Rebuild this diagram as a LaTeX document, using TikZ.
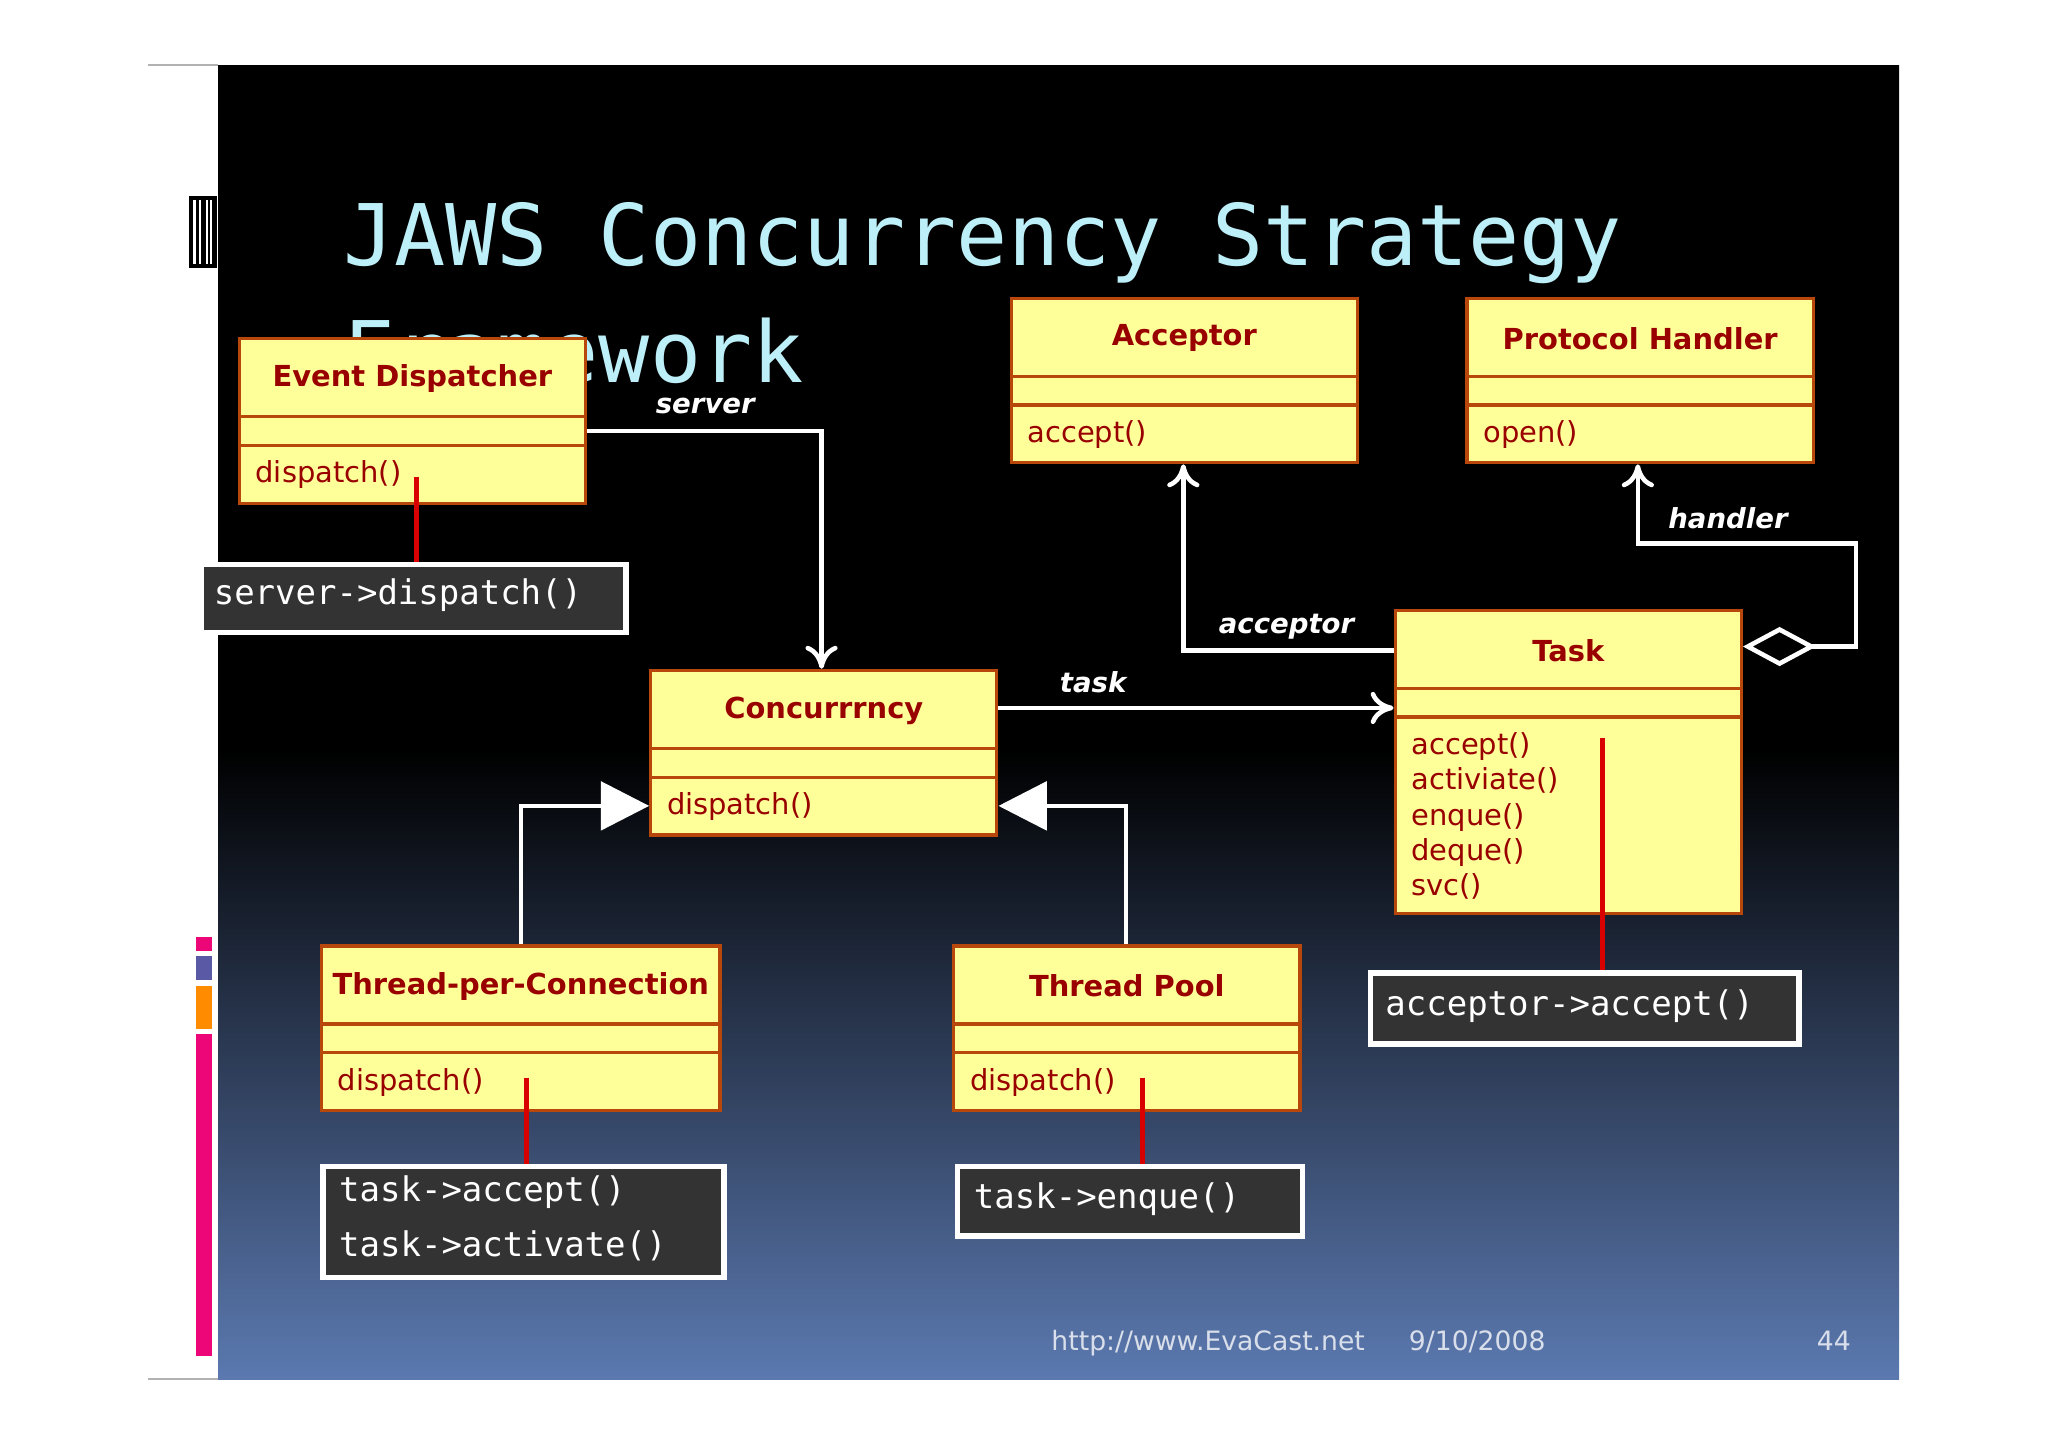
\documentclass[tikz,border=0pt]{standalone}
\usepackage{fontspec}
\setmainfont{DejaVu Sans}
\setmonofont{DejaVu Sans Mono}
\usetikzlibrary{arrows.meta,calc}
\definecolor{bg1}{HTML}{5B79B0}
\definecolor{uy}{HTML}{FFFF99}
\definecolor{ub}{HTML}{B8470B}
\definecolor{ut}{HTML}{990000}
\definecolor{tc}{HTML}{BDEFF8}
\definecolor{cb}{HTML}{333333}
\definecolor{ft}{HTML}{D8DEEA}
\pgfdeclareverticalshading{slide}{100bp}{color(0bp)=(bg1);color(25bp)=(bg1);color(49bp)=(black);color(100bp)=(black)}
\tikzset{
 box/.style={draw=ub,fill=uy,line width=0.7pt,anchor=north west,inner sep=0pt},
 ttl/.style={text=ut,font=\fontsize{6.3}{6.5}\selectfont\bfseries},
 mth/.style={text=ut,font=\fontsize{6.3}{7.7}\selectfont,anchor=north west,align=left,inner sep=0pt},
 code/.style={draw=white,fill=cb,line width=1.2pt,anchor=north west,inner sep=0pt},
 ct/.style={text=white,font=\ttfamily\fontsize{7.4}{9}\selectfont,anchor=west,inner sep=0pt},
 wl/.style={draw=white,line width=1pt},
 lab/.style={text=white,font=\fontsize{6}{6.5}\selectfont\bfseries\itshape},
 rl/.style={draw=red!85!black,line width=1.1pt},
 oarr/.style={-{To[length=5pt,width=7pt,line width=1pt]}},
 tri/.style={-{Triangle[length=0.37cm,width=0.37cm,fill=white]}},
}
\newcommand\umlbox[7]{%
 \node[box,minimum width={#4*0.01cm},minimum height={#5*0.01cm}] (#1) at (#2,#3) {};
 \draw[ub,line width=0.7pt] ($(#1.north west)+(0,61)$) -- ($(#1.north east)+(0,61)$);
 \draw[ub,line width=0.7pt] ($(#1.north west)+(0,83)$) -- ($(#1.north east)+(0,83)$);
 \node[ttl] (#1t) at ($(#1.north)+(0,32)$) {#6};
 \node[mth] (#1m) at ($(#1.north west)+(13,94)$) {#7};
}
\begin{document}
\begin{tikzpicture}[x=0.01cm,y=-0.01cm]
\useasboundingbox[fill=white] (0,0) rectangle (1568,1108);
\shade[shading=slide] (167,50) rectangle (1454,1056);
\draw[gray!60,line width=0.5pt] (113,50) -- (167,50) (113,1056) -- (167,1056);
% barcode
\foreach \x/\w in {145/3,150/2,154/4,159/2,162/4}{\fill[black] (\x,150) rectangle (\x+\w,205);}
\fill[black] (145,150) rectangle (166,153);
\fill[black] (145,202) rectangle (166,205);
\fill[magenta!80!red] (150,717) rectangle (162,728);
\fill[gray!70!blue] (150,732) rectangle (162,750);
\fill[orange!90!yellow] (150,755) rectangle (162,788);
\fill[magenta!80!red] (150,792) rectangle (162,1038);
% title
\node[text=tc,font=\ttfamily\fontsize{18.5}{25}\selectfont,anchor=base west,inner sep=0pt] (title1) at (262,203) {JAWS Concurrency Strategy};
\node[text=tc,font=\ttfamily\fontsize{18.5}{25}\selectfont,anchor=base west,inner sep=0pt] (title2) at (262,293) {Framework};
% boxes
\umlbox{ed}{182}{258}{265}{126}{Event Dispatcher}{dispatch()}
\umlbox{acc}{773}{227}{265}{126}{Acceptor}{accept()}
\umlbox{ph}{1122}{227}{265}{126}{Protocol Handler}{open()}
\umlbox{con}{497}{512}{265}{126}{Concurrrncy}{dispatch()}
\umlbox{task}{1067}{466}{265}{232}{Task}{accept()\\activiate()\\enque()\\deque()\\svc()}
\umlbox{tpc}{245}{723}{305}{126}{Thread-per-Connection}{dispatch()}
\umlbox{tp}{729}{723}{265}{126}{Thread Pool}{dispatch()}
% code boxes
\node[code,minimum width=3.25cm,minimum height=0.52cm] (c1) at (152,430) {};
\node[ct] at (163,456) {server->dispatch()};
\node[code,minimum width=3.28cm,minimum height=0.54cm] (c2) at (1047,743) {};
\node[ct] at (1060,770) {acceptor->accept()};
\node[code,minimum width=3.07cm,minimum height=0.85cm] (c3) at (245,891) {};
\node[ct] at (259,913) {task->accept()};
\node[ct] at (259,954) {task->activate()};
\node[code,minimum width=2.64cm,minimum height=0.53cm] (c4) at (731,891) {};
\node[ct] at (745,918) {task->enque()};
% red lines
\draw[rl] (319,365) -- (c1.north -| 319,0);
\draw[rl] (1227,565) -- (c2.north -| 1227,0);
\draw[rl] (403,825) -- (c3.north -| 403,0);
\draw[rl] (875,825) -- (c4.north -| 875,0);
% connectors
\draw[wl,oarr] (ed.east |- 0,330) -| (con.north -| 629,0);
\node[lab] at (540,311) {server};
\draw[wl,oarr] (con.east |- 0,542) -- (task.west |- 0,542);
\node[lab] at (837,522) {task};
\draw[wl,oarr] (task.west |- 0,498) -| (acc.south -| 906,0);
\node[lab] at (985,480) {acceptor};
\coordinate (hc) at (1421,416);
\draw[wl,{Diamond[open,length=0.56cm,width=0.3cm,line width=1pt]}-{To[length=5pt,width=7pt,line width=1pt]}] (task.east |- 0,495) -| (hc) -| (ph.south -| 1254,0);
\node[lab] at (1323,397) {handler};
\draw[wl,tri] (tpc.north -| 399,0) |- (con.west |- 0,617);
\draw[wl,tri] (tp.north -| 862,0) |- (con.east |- 0,617);
% footer
\node[text=ft,font=\fontsize{5.8}{7}\selectfont,anchor=base] (f1) at (925,1034) {http://www.EvaCast.net};
\node[text=ft,font=\fontsize{5.8}{7}\selectfont,anchor=base] (f2) at (1131,1034) {9/10/2008};
\node[text=ft,font=\fontsize{5.8}{7}\selectfont,anchor=base] (f3) at (1404,1034) {44};
\end{tikzpicture}
\end{document}
